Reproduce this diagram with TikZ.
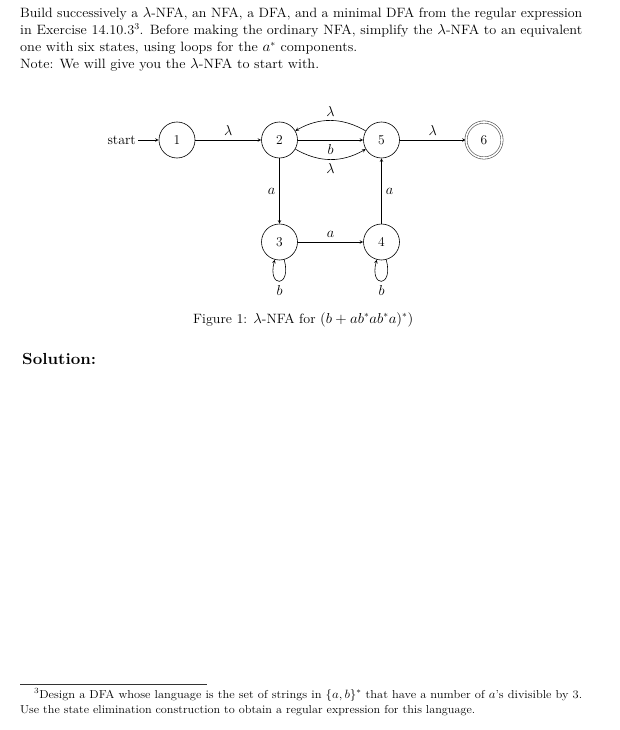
\documentclass[tikz,border=0pt]{standalone}
\usepackage{graphicx}
\usetikzlibrary{automata,positioning}
\newcommand{\fitw}[2]{\resizebox{#1pt}{\height}{#2}}
\begin{document}
\begin{tikzpicture}[x=1pt,y=-1pt,
  txt/.style={anchor=base west,inner sep=0pt,font=\fontsize{13.5}{17}\selectfont},
  fn/.style={anchor=base west,inner sep=0pt,font=\fontsize{11.5}{13}\selectfont},
  st/.style={circle,draw,semithick,minimum size=36pt,inner sep=0pt,font=\fontsize{13.5}{14}\selectfont},
  acc/.style={st,double,double distance=1.6pt,draw=black!70},
  lab/.style={font=\fontsize{14}{14}\selectfont,inner sep=4pt},
  edge/.style={->,semithick,>=stealth},
  >=stealth]
\useasboundingbox[fill=white] (0,0) rectangle (620,730);
% body text
\node[txt] (l1) at (20,17.3) {\fitw{562}{Build successively a $\lambda$-NFA, an NFA, a DFA, and a minimal DFA from the regular expression}};
\node[txt] (l2) at (20,34.5) {\fitw{562}{in Exercise 14.10.3$^3$. Before making the ordinary NFA, simplify the $\lambda$-NFA to an equivalent}};
\node[txt] (l3) at (20,51.5) {\fitw{337}{one with six states, using loops for the $a^*$ components.}};
\node[txt] (l4) at (20,68.5) {\fitw{299}{Note: We will give you the $\lambda$-NFA to start with.}};
% automaton
\node[st] (n1) at (177,140) {1};
\node[st] (n2) at (279.5,140) {2};
\node[st] (n5) at (381.5,140) {5};
\node[acc] (n6) at (484,140) {6};
\node[st] (n3) at (279.5,242) {3};
\node[st] (n4) at (381.5,242) {4};
\node[lab,anchor=east,inner sep=2pt] (start) at (138,140) {start};
\draw[edge] (start) -- (n1);
\draw[edge] (n1) -- node[lab,above] {$\lambda$} (n2);
\draw[edge] (n2) -- node[lab,below] {$b$} (n5);
\draw[edge] (n2) to[bend right=30] node[lab,below] {$\lambda$} (n5);
\draw[edge] (n5) to[bend right=30] node[lab,above] {$\lambda$} (n2);
\draw[edge] (n5) -- node[lab,above] {$\lambda$} (n6);
\draw[edge] (n2) -- node[lab,left] {$a$} (n3);
\draw[edge] (n4) -- node[lab,right] {$a$} (n5);
\draw[edge] (n3) -- node[lab,above] {$a$} (n4);
\draw[edge] (n3) to[out=-75,in=-105,looseness=8,min distance=16pt] node[lab,below] {$b$} (n3);
\draw[edge] (n4) to[out=-75,in=-105,looseness=8,min distance=16pt] node[lab,below] {$b$} (n4);
% caption
\node[txt] (cap) at (193,323) {\fitw{220}{Figure 1: $\lambda$-NFA for $(b+ab^*ab^*a)^*)$}};
\node[anchor=base west,inner sep=0pt,font=\fontsize{16}{18}\selectfont\bfseries] (sol) at (22,364) {\fitw{74}{Solution:}};
% footnote
\coordinate (r1) at (20,684);
\coordinate (r2) at (207,684);
\draw[line width=0.9pt,black!80] (r1) -- (r2);
\node[fn] (f1) at (34,698) {\fitw{548}{$^3$Design a DFA whose language is the set of strings in $\{a,b\}^*$ that have a number of $a$'s divisible by 3.}};
\node[fn] (f2) at (20,713) {\fitw{455}{Use the state elimination construction to obtain a regular expression for this language.}};
\end{tikzpicture}
\end{document}
